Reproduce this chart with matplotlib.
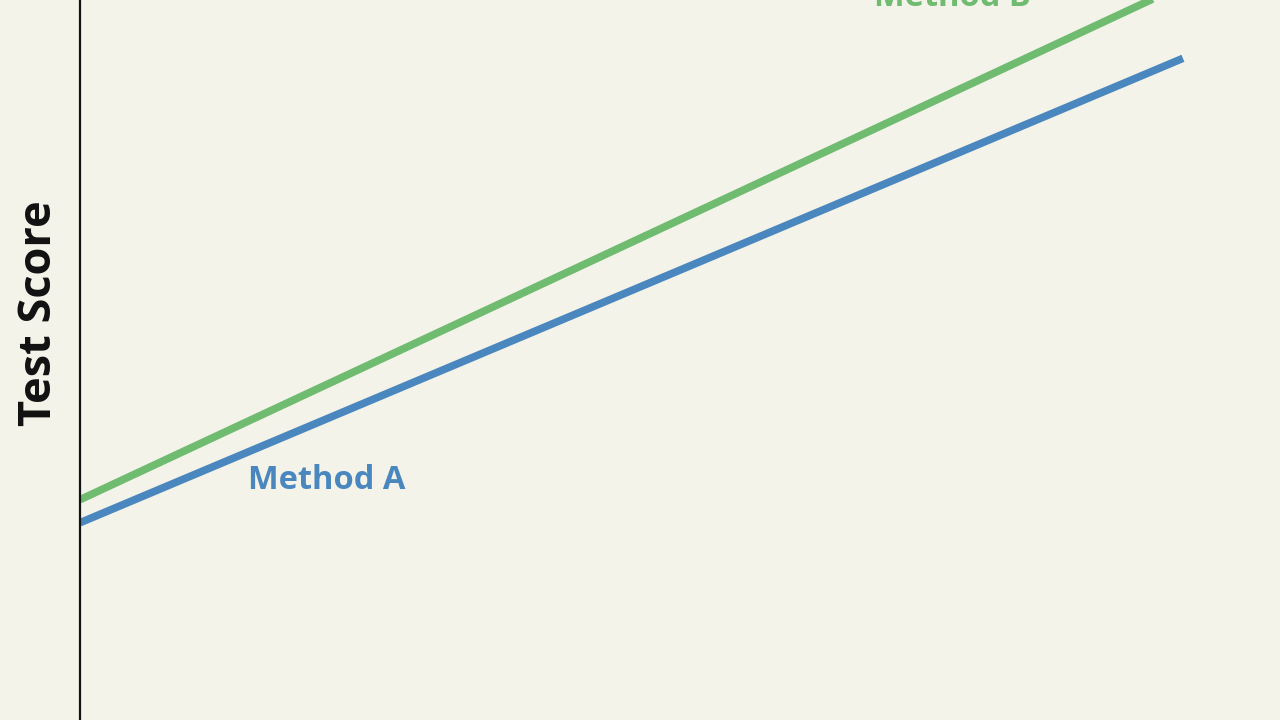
import matplotlib
matplotlib.use("Agg")
import numpy as np
from matplotlib import pyplot as plt

# study time (arbitrary units) vs test score
hours    = [0, 10]
method_a = [27.4, 91.9]
method_b = [30.6, 102.1]
labels   = ["Method A", "Method B"]

bg = "#f4f3ea"
blue = "#4a87be"
green = "#6fbb6f"

plt.rcParams['font.family'] = ['Open Sans', 'DejaVu Sans']

fig = plt.figure(figsize=(12.8, 7.2), dpi=100, facecolor=bg)
ax = fig.add_axes([80/1280, 0, 1 - 80/1280, 1])
ax.set_facecolor(bg)

ax.plot(hours, method_b, color=green, lw=5.5, solid_capstyle='butt')
ax.plot(hours, method_a, color=blue, lw=5.5, solid_capstyle='butt')

ax.set_xlim(0, 10.88)
ax.set_ylim(0, 100)

ax.text(1.52, 33.3, labels[0], color=blue, fontsize=23.5, fontweight='bold', va='center', ha='left')
ax.text(7.2, 100.4, labels[1], color=green, fontsize=23.5, fontweight='bold', va='center', ha='left')

for s in ['top', 'right', 'bottom']:
    ax.spines[s].set_visible(False)
ax.spines['left'].set_linewidth(1.6)
ax.spines['left'].set_color('#111111')
ax.set_xticks([])
ax.set_yticks([])

fig.text(40/1280, 1 - 313/720, "Test Score", rotation=90, fontsize=32.5, fontweight='bold',
         ha='center', va='center', color='#111111')

fig.savefig("out.png", dpi=100, facecolor=bg)
